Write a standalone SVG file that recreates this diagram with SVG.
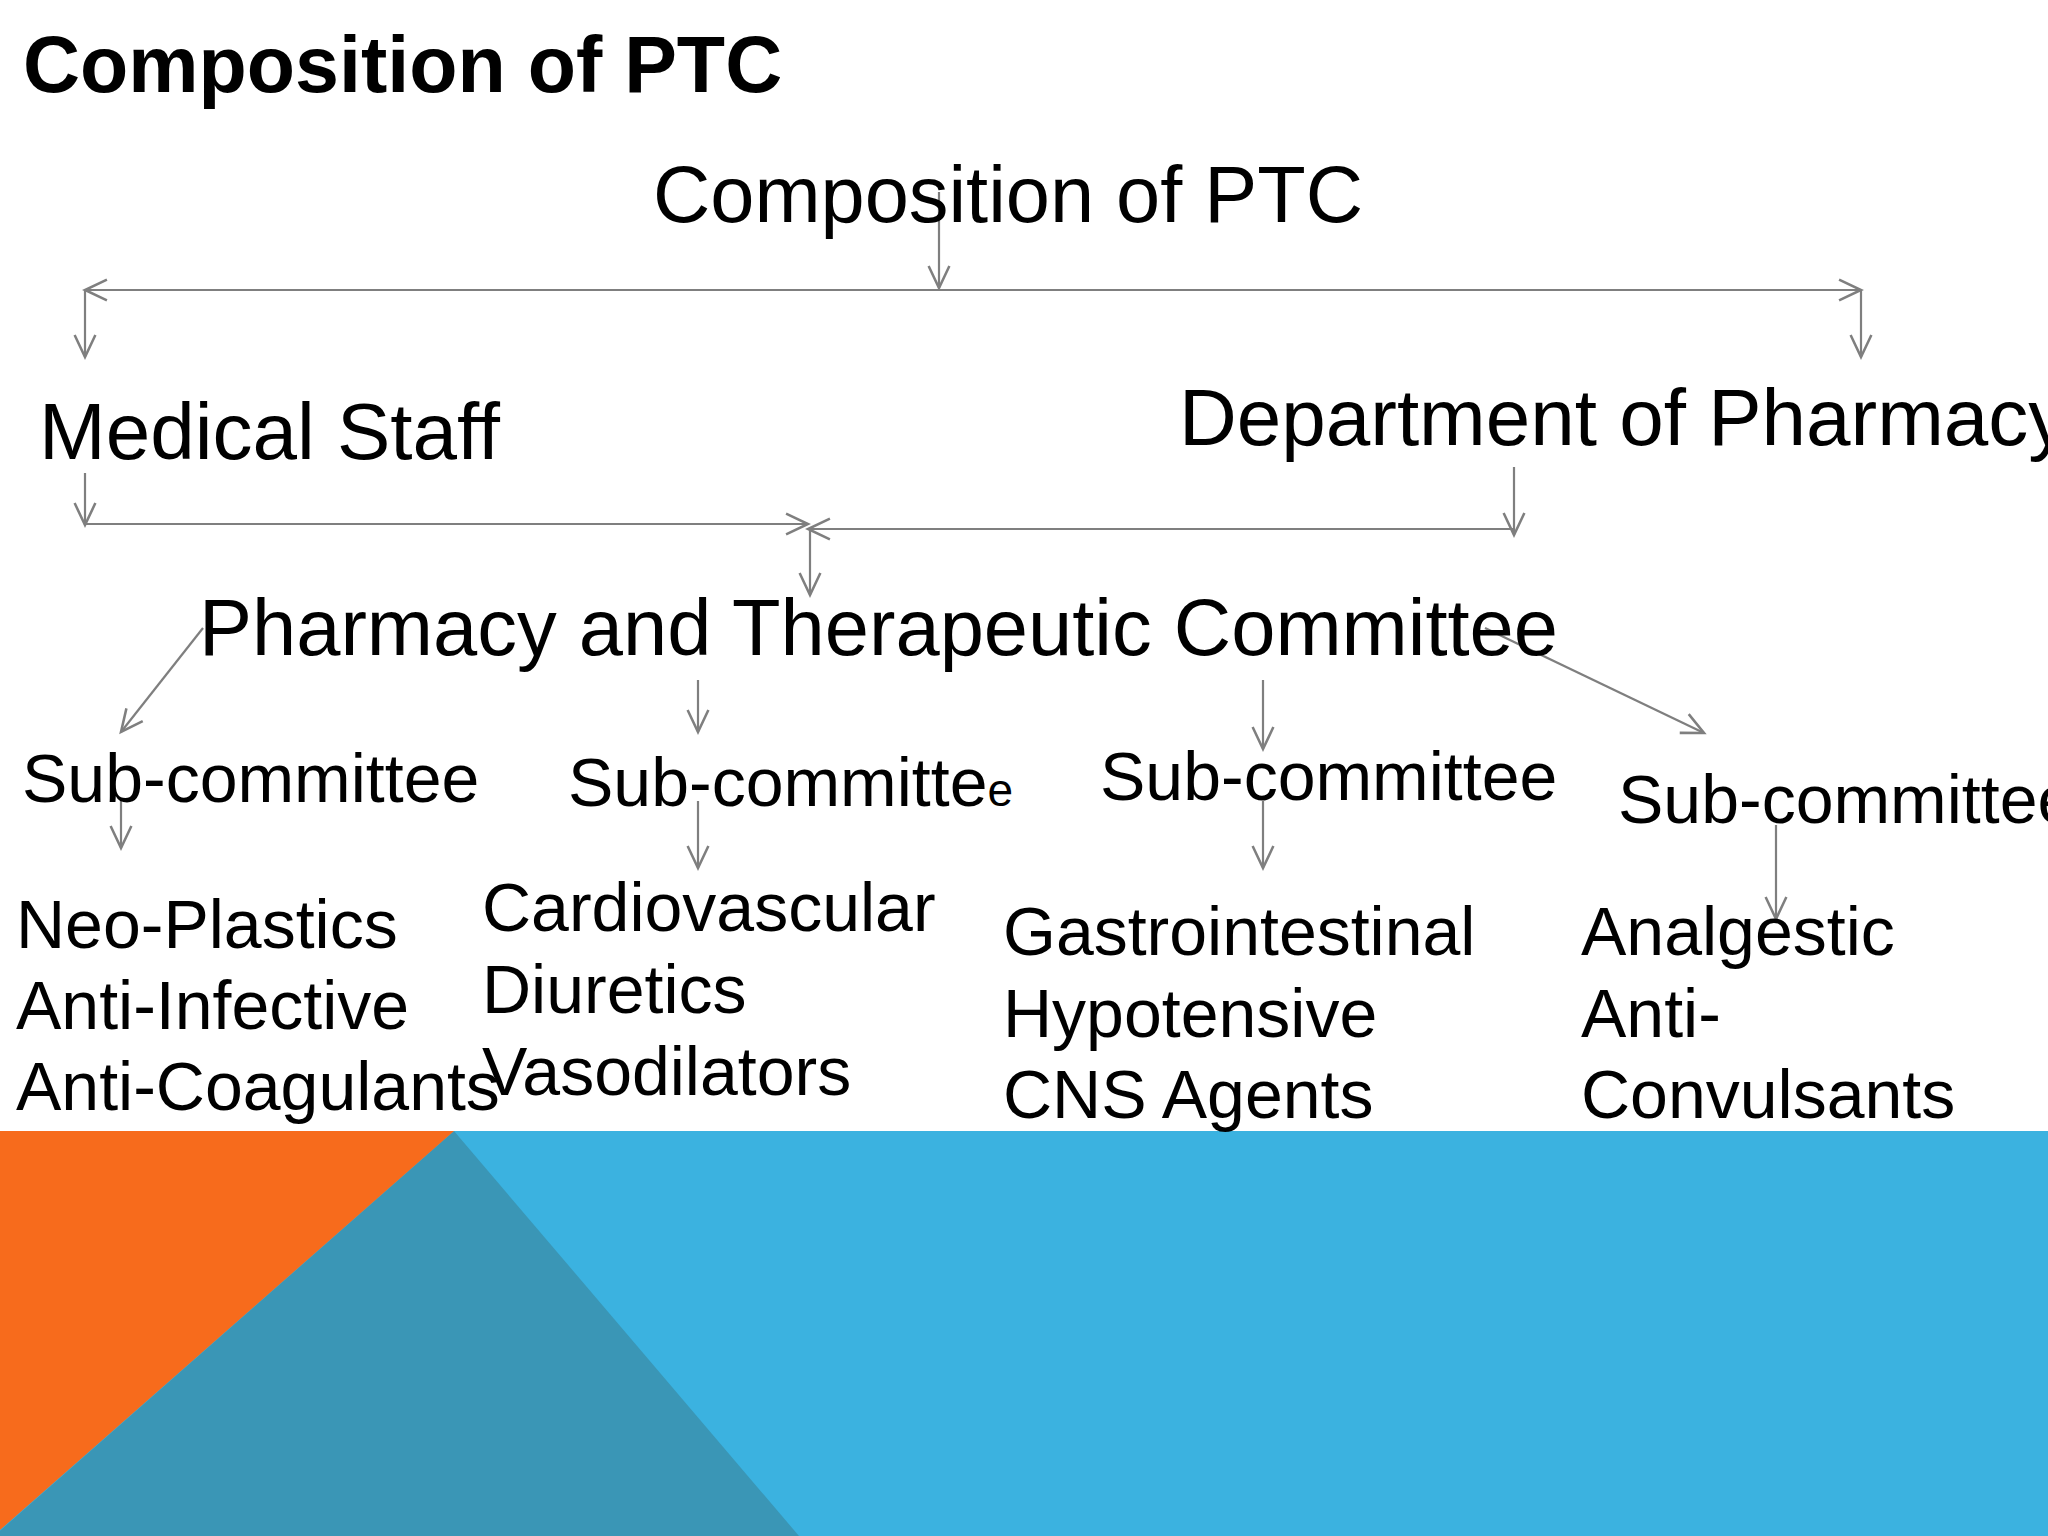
<svg xmlns="http://www.w3.org/2000/svg" width="2048" height="1536" viewBox="0 0 2048 1536">
<style>
.t{font-family:"Liberation Sans",Arial,sans-serif;fill:#000}
.h{font-size:79px;font-weight:bold}
.l{font-size:80px}
.s{font-size:68px}
.c line{stroke:#7f7f7f;stroke-width:2.2;fill:none;marker-end:url(#ah)}
</style>
<defs>
<marker id="ah" markerUnits="userSpaceOnUse" markerWidth="30" markerHeight="30" refX="0" refY="0" viewBox="-22 -12 26 24" orient="auto" overflow="visible">
<path d="M-19,-9 L0,0 L-19,9" fill="none" stroke="#7f7f7f" stroke-width="2.2"/>
</marker>
</defs>
<rect width="2048" height="1536" fill="#fff"/>
<g id="background">
<rect x="0" y="1131" width="2048" height="405" fill="#3BB2E0"/>
<polygon points="454,1131 799,1536 -6,1536" fill="#3A96B6"/>
<polygon points="0,1131 454,1131 0,1530" fill="#F76B1C"/>
</g>
<g id="title"><text class="t h" x="23" y="92">Composition of PTC</text></g>
<g class="c" id="connectors">
<line x1="939" y1="192" x2="939" y2="288"/>
<line x1="939" y1="290" x2="85" y2="290"/>
<line x1="939" y1="290" x2="1861" y2="290"/>
<line x1="85" y1="290" x2="85" y2="357"/>
<line x1="1861" y1="290" x2="1861" y2="357"/>
<line x1="85" y1="473" x2="85" y2="525"/>
<line x1="85" y1="524" x2="808" y2="524"/>
<line x1="1514" y1="467" x2="1514" y2="535"/>
<line x1="1514" y1="529" x2="808" y2="529"/>
<line x1="810" y1="528" x2="810" y2="595"/>
<line x1="203" y1="628" x2="121" y2="732"/>
<line x1="698" y1="680" x2="698" y2="732"/>
<line x1="1263" y1="680" x2="1263" y2="749"/>
<line x1="1485" y1="628" x2="1704" y2="733"/>
<line x1="121" y1="799" x2="121" y2="848"/>
<line x1="698" y1="801" x2="698" y2="868"/>
<line x1="1263" y1="801" x2="1263" y2="868"/>
<line x1="1776" y1="825" x2="1776" y2="919"/>
</g>
<g id="root"><text class="t l" x="653" y="222" textLength="710" lengthAdjust="spacingAndGlyphs">Composition of PTC</text></g>
<g id="medical-staff"><text class="t l" x="39" y="459">Medical Staff</text></g>
<g id="dept-pharmacy"><text class="t l" x="1179" y="445">Department of Pharmacy</text></g>
<g id="ptc"><text class="t l" x="199" y="655" textLength="1359" lengthAdjust="spacingAndGlyphs">Pharmacy and Therapeutic Committee</text></g>
<g id="sub1"><text class="t s" x="22" y="802">Sub-committee</text></g>
<g id="sub2"><text class="t s" x="568" y="806">Sub-committe<tspan font-size="46">e</tspan></text></g>
<g id="sub3"><text class="t s" x="1100" y="800">Sub-committee</text></g>
<g id="sub4"><text class="t s" x="1618" y="823">Sub-committee</text></g>
<g id="list1">
<text class="t s" x="16" y="948">Neo-Plastics</text>
<text class="t s" x="16" y="1029">Anti-Infective</text>
<text class="t s" x="16" y="1110">Anti-Coagulants</text>
</g>
<g id="list2">
<text class="t s" x="482" y="931">Cardiovascular</text>
<text class="t s" x="482" y="1013">Diuretics</text>
<text class="t s" x="482" y="1095">Vasodilators</text>
</g>
<g id="list3">
<text class="t s" x="1003" y="955">Gastrointestinal</text>
<text class="t s" x="1003" y="1037">Hypotensive</text>
<text class="t s" x="1003" y="1118">CNS Agents</text>
</g>
<g id="list4">
<text class="t s" x="1581" y="955">Analgestic</text>
<text class="t s" x="1581" y="1037">Anti-</text>
<text class="t s" x="1581" y="1118">Convulsants</text>
</g>
</svg>
